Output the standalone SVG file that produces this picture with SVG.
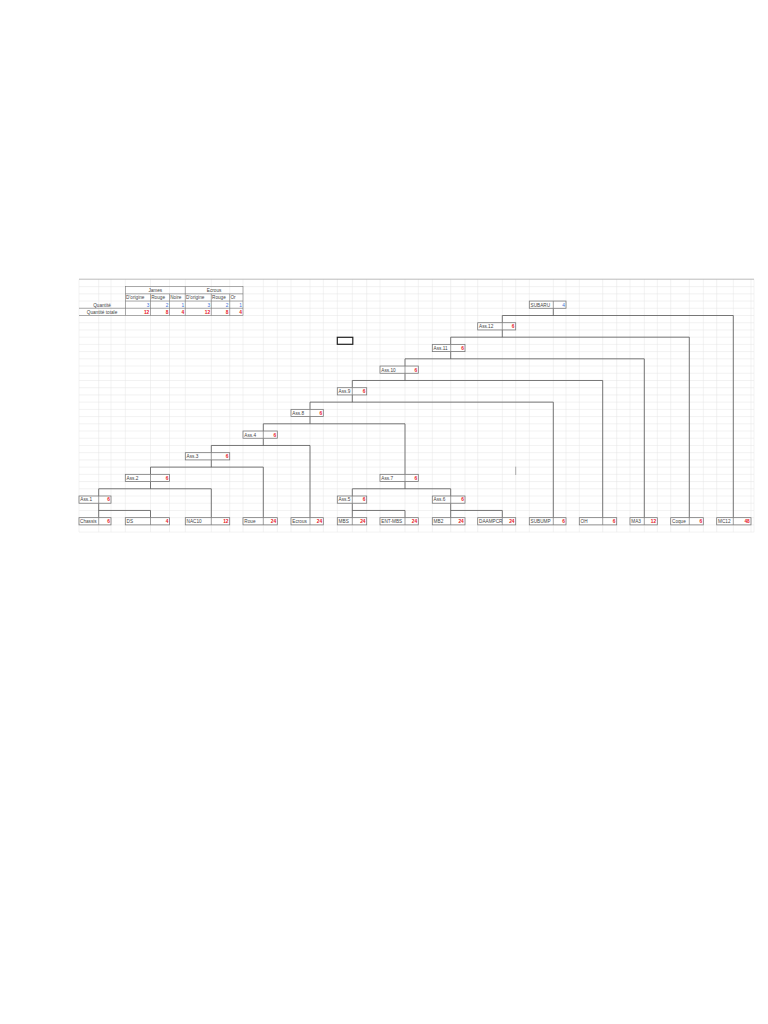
<svg xmlns="http://www.w3.org/2000/svg" width="768" height="1024" viewBox="0 0 768 1024">
<style>
.grid line{stroke:#e4e4e4;stroke-width:0.5}
.box{fill:#fff;stroke:#777;stroke-width:0.8}
.div{stroke:#777;stroke-width:0.7}
.con{fill:none;stroke:#555;stroke-width:0.8}
.t{font-family:"Liberation Sans",Arial,sans-serif;font-size:4.7px;fill:#444}
.v{font-family:"Liberation Sans",Arial,sans-serif;font-size:4.8px;fill:#e8161b;font-weight:bold;text-anchor:end}
.b{font-family:"Liberation Sans",Arial,sans-serif;font-size:4.8px;fill:#3a6fd8;text-anchor:end}
.tb{fill:none;stroke:#777;stroke-width:0.6}
</style>
<rect width="768" height="1024" fill="#fff"/>
<g id="grid" class="grid">
<line x1="79" y1="286.62" x2="754" y2="286.62"/><line x1="79" y1="293.84" x2="754" y2="293.84"/><line x1="79" y1="301.06" x2="754" y2="301.06"/><line x1="79" y1="308.28" x2="754" y2="308.28"/><line x1="79" y1="315.5" x2="754" y2="315.5"/><line x1="79" y1="322.72" x2="754" y2="322.72"/><line x1="79" y1="329.94" x2="754" y2="329.94"/><line x1="79" y1="337.16" x2="754" y2="337.16"/><line x1="79" y1="344.38" x2="754" y2="344.38"/><line x1="79" y1="351.6" x2="754" y2="351.6"/><line x1="79" y1="358.82" x2="754" y2="358.82"/><line x1="79" y1="366.04" x2="754" y2="366.04"/><line x1="79" y1="373.26" x2="754" y2="373.26"/><line x1="79" y1="380.48" x2="754" y2="380.48"/><line x1="79" y1="387.7" x2="754" y2="387.7"/><line x1="79" y1="394.92" x2="754" y2="394.92"/><line x1="79" y1="402.14" x2="754" y2="402.14"/><line x1="79" y1="409.36" x2="754" y2="409.36"/><line x1="79" y1="416.58" x2="754" y2="416.58"/><line x1="79" y1="423.8" x2="754" y2="423.8"/><line x1="79" y1="431.02" x2="754" y2="431.02"/><line x1="79" y1="438.24" x2="754" y2="438.24"/><line x1="79" y1="445.46" x2="754" y2="445.46"/><line x1="79" y1="452.68" x2="754" y2="452.68"/><line x1="79" y1="459.9" x2="754" y2="459.9"/><line x1="79" y1="467.12" x2="754" y2="467.12"/><line x1="79" y1="474.34" x2="754" y2="474.34"/><line x1="79" y1="481.56" x2="754" y2="481.56"/><line x1="79" y1="488.78" x2="754" y2="488.78"/><line x1="79" y1="496" x2="754" y2="496"/><line x1="79" y1="503.22" x2="754" y2="503.22"/><line x1="79" y1="510.44" x2="754" y2="510.44"/><line x1="79" y1="517.66" x2="754" y2="517.66"/><line x1="79" y1="524.88" x2="754" y2="524.88"/><line x1="79" y1="532.1" x2="754" y2="532.1"/>
<line x1="79" y1="279.4" x2="79" y2="532.1"/><line x1="98.7" y1="279.4" x2="98.7" y2="532.1"/><line x1="111" y1="279.4" x2="111" y2="532.1"/><line x1="125.3" y1="279.4" x2="125.3" y2="532.1"/><line x1="150.5" y1="279.4" x2="150.5" y2="532.1"/><line x1="169.5" y1="279.4" x2="169.5" y2="532.1"/><line x1="185.3" y1="279.4" x2="185.3" y2="532.1"/><line x1="211.3" y1="279.4" x2="211.3" y2="532.1"/><line x1="229.7" y1="279.4" x2="229.7" y2="532.1"/><line x1="243" y1="279.4" x2="243" y2="532.1"/><line x1="263.3" y1="279.4" x2="263.3" y2="532.1"/><line x1="277.3" y1="279.4" x2="277.3" y2="532.1"/><line x1="291" y1="279.4" x2="291" y2="532.1"/><line x1="310" y1="279.4" x2="310" y2="532.1"/><line x1="323.3" y1="279.4" x2="323.3" y2="532.1"/><line x1="337.3" y1="279.4" x2="337.3" y2="532.1"/><line x1="352.3" y1="279.4" x2="352.3" y2="532.1"/><line x1="366.7" y1="279.4" x2="366.7" y2="532.1"/><line x1="380" y1="279.4" x2="380" y2="532.1"/><line x1="405" y1="279.4" x2="405" y2="532.1"/><line x1="418.3" y1="279.4" x2="418.3" y2="532.1"/><line x1="432.3" y1="279.4" x2="432.3" y2="532.1"/><line x1="450.7" y1="279.4" x2="450.7" y2="532.1"/><line x1="465" y1="279.4" x2="465" y2="532.1"/><line x1="477.7" y1="279.4" x2="477.7" y2="532.1"/><line x1="502.3" y1="279.4" x2="502.3" y2="532.1"/><line x1="515.7" y1="279.4" x2="515.7" y2="532.1"/><line x1="529.3" y1="279.4" x2="529.3" y2="532.1"/><line x1="553.3" y1="279.4" x2="553.3" y2="532.1"/><line x1="566" y1="279.4" x2="566" y2="532.1"/><line x1="579.3" y1="279.4" x2="579.3" y2="532.1"/><line x1="602.7" y1="279.4" x2="602.7" y2="532.1"/><line x1="616.7" y1="279.4" x2="616.7" y2="532.1"/><line x1="630" y1="279.4" x2="630" y2="532.1"/><line x1="644.3" y1="279.4" x2="644.3" y2="532.1"/><line x1="657.3" y1="279.4" x2="657.3" y2="532.1"/><line x1="670.7" y1="279.4" x2="670.7" y2="532.1"/><line x1="689.3" y1="279.4" x2="689.3" y2="532.1"/><line x1="703.3" y1="279.4" x2="703.3" y2="532.1"/><line x1="716.7" y1="279.4" x2="716.7" y2="532.1"/><line x1="733.3" y1="279.4" x2="733.3" y2="532.1"/><line x1="751" y1="279.4" x2="751" y2="532.1"/><line x1="754" y1="279.4" x2="754" y2="532.1"/>
</g>
<line x1="79" y1="279.2" x2="754" y2="279.2" stroke="#aaa" stroke-width="0.8"/>
<g id="table">
<rect class="tb" x="125.3" y="286.62" width="117.7" height="28.88"/>
<line class="tb" x1="125.3" y1="293.84" x2="243" y2="293.84"/>
<line class="tb" x1="125.3" y1="301.06" x2="243" y2="301.06"/>
<line class="tb" x1="79" y1="308.28" x2="243" y2="308.28"/>
<line class="tb" x1="79" y1="315.5" x2="125.3" y2="315.5"/>
<line class="tb" x1="185.3" y1="286.62" x2="185.3" y2="315.5"/>
<line class="tb" x1="150.5" y1="293.84" x2="150.5" y2="315.5"/>
<line class="tb" x1="169.5" y1="293.84" x2="169.5" y2="315.5"/>
<line class="tb" x1="211.3" y1="293.84" x2="211.3" y2="315.5"/>
<line class="tb" x1="229.7" y1="293.84" x2="229.7" y2="315.5"/>
<text class="t" x="155.3" y="292.1" text-anchor="middle">James</text>
<text class="t" x="214.1" y="292.1" text-anchor="middle">Ecrous</text>
<text class="t" x="126.1" y="299.3">D'origine</text>
<text class="t" x="151.2" y="299.3">Rouge</text>
<text class="t" x="170.2" y="299.3">Noire</text>
<text class="t" x="186" y="299.3">D'origine</text>
<text class="t" x="212" y="299.3">Rouge</text>
<text class="t" x="230.4" y="299.3">Or</text>
<text class="t" x="102" y="306.5" text-anchor="middle">Quantité</text>
<text class="t" x="102" y="313.7" text-anchor="middle">Quantité totale</text>
<text class="b" x="149.3" y="306.5">3</text>
<text class="b" x="168.3" y="306.5">2</text>
<text class="b" x="184.1" y="306.5">1</text>
<text class="b" x="210.1" y="306.5">3</text>
<text class="b" x="228.5" y="306.5">2</text>
<text class="b" x="241.8" y="306.5">1</text>
<text class="v" x="149.3" y="313.7">12</text>
<text class="v" x="168.3" y="313.7">8</text>
<text class="v" x="184.1" y="313.7">4</text>
<text class="v" x="210.1" y="313.7">12</text>
<text class="v" x="228.5" y="313.7">8</text>
<text class="v" x="241.8" y="313.7">4</text>
</g>
<rect x="337.3" y="337.3" width="15.5" height="7" fill="none" stroke="#222" stroke-width="1.2"/>
<line x1="515.7" y1="466.7" x2="515.7" y2="475" stroke="#999" stroke-width="0.8"/>
<g id="connectors" class="con">
<path d="M502.3 315.5H733.3V517.66M553.3 308.28V315.5M502.3 315.5V322.72"/>
<path d="M450.7 337.16H689.3V517.66M502.3 329.94V337.16M450.7 337.16V344.38"/>
<path d="M405 358.82H644.3V517.66M450.7 351.6V358.82M405 358.82V366.04"/>
<path d="M352.3 380.48H602.7V517.66M405 373.26V380.48M352.3 380.48V387.7"/>
<path d="M310 402.14H553.3V517.66M352.3 394.92V402.14M310 402.14V409.36"/>
<path d="M263.3 423.8H405V474.34M310 416.58V423.8M263.3 423.8V431.02"/>
<path d="M211.3 445.46H310V517.66M263.3 438.24V445.46M211.3 445.46V452.68"/>
<path d="M150.5 467.12H263.3V517.66M211.3 459.9V467.12M150.5 467.12V474.34"/>
<path d="M98.7 488.78H211.3V517.66M150.5 481.56V488.78M98.7 488.78V496"/>
<path d="M98.7 510.44H150.5V517.66M98.7 503.22V517.66"/>
<path d="M352.3 488.78H450.7V496M405 481.56V488.78M352.3 488.78V496"/>
<path d="M352.3 510.44H405V517.66M352.3 503.22V517.66"/>
<path d="M450.7 510.44H502.3V517.66M450.7 503.22V517.66"/>
</g>
<g id="SUBARU"><rect class="box" x="529.3" y="301.06" width="36.7" height="7.22"/><line class="div" x1="553.3" y1="301.06" x2="553.3" y2="308.28"/><text class="t" x="530.6" y="306.5">SUBARU</text><text class="b" x="564.8" y="306.5">4</text></g>
<g id="ass12"><rect class="box" x="477.7" y="322.72" width="38" height="7.22"/><line class="div" x1="502.3" y1="322.72" x2="502.3" y2="329.94"/><text class="t" x="479" y="328.2">Ass.12</text><text class="v" x="514.5" y="328.2">6</text></g>
<g id="ass11"><rect class="box" x="432.3" y="344.38" width="32.7" height="7.22"/><line class="div" x1="450.7" y1="344.38" x2="450.7" y2="351.6"/><text class="t" x="433.6" y="349.8">Ass.11</text><text class="v" x="463.8" y="349.8">6</text></g>
<g id="ass10"><rect class="box" x="380" y="366.04" width="38.3" height="7.22"/><line class="div" x1="405" y1="366.04" x2="405" y2="373.26"/><text class="t" x="381.3" y="371.5">Ass.10</text><text class="v" x="417.1" y="371.5">6</text></g>
<g id="ass9"><rect class="box" x="337.3" y="387.7" width="29.4" height="7.22"/><line class="div" x1="352.3" y1="387.7" x2="352.3" y2="394.92"/><text class="t" x="338.6" y="393.1">Ass.9</text><text class="v" x="365.5" y="393.1">6</text></g>
<g id="ass8"><rect class="box" x="291" y="409.36" width="32.3" height="7.22"/><line class="div" x1="310" y1="409.36" x2="310" y2="416.58"/><text class="t" x="292.3" y="414.8">Ass.8</text><text class="v" x="322.1" y="414.8">6</text></g>
<g id="ass4"><rect class="box" x="243" y="431.02" width="34.3" height="7.22"/><line class="div" x1="263.3" y1="431.02" x2="263.3" y2="438.24"/><text class="t" x="244.3" y="436.5">Ass.4</text><text class="v" x="276.1" y="436.5">6</text></g>
<g id="ass3"><rect class="box" x="185.3" y="452.68" width="44.4" height="7.22"/><line class="div" x1="211.3" y1="452.68" x2="211.3" y2="459.9"/><text class="t" x="186.6" y="458.1">Ass.3</text><text class="v" x="228.5" y="458.1">6</text></g>
<g id="ass2"><rect class="box" x="125.3" y="474.34" width="44.2" height="7.22"/><line class="div" x1="150.5" y1="474.34" x2="150.5" y2="481.56"/><text class="t" x="126.6" y="479.8">Ass.2</text><text class="v" x="168.3" y="479.8">6</text></g>
<g id="ass7"><rect class="box" x="380" y="474.34" width="38.3" height="7.22"/><line class="div" x1="405" y1="474.34" x2="405" y2="481.56"/><text class="t" x="381.3" y="479.8">Ass.7</text><text class="v" x="417.1" y="479.8">6</text></g>
<g id="ass1"><rect class="box" x="79" y="496" width="32" height="7.22"/><line class="div" x1="98.7" y1="496" x2="98.7" y2="503.22"/><text class="t" x="80.3" y="501.4">Ass.1</text><text class="v" x="109.8" y="501.4">6</text></g>
<g id="ass5"><rect class="box" x="337.3" y="496" width="29.4" height="7.22"/><line class="div" x1="352.3" y1="496" x2="352.3" y2="503.22"/><text class="t" x="338.6" y="501.4">Ass.5</text><text class="v" x="365.5" y="501.4">6</text></g>
<g id="ass6"><rect class="box" x="432.3" y="496" width="32.7" height="7.22"/><line class="div" x1="450.7" y1="496" x2="450.7" y2="503.22"/><text class="t" x="433.6" y="501.4">Ass.6</text><text class="v" x="463.8" y="501.4">6</text></g>
<g id="chassis"><rect class="box" x="79" y="517.66" width="32" height="7.22"/><line class="div" x1="98.7" y1="517.66" x2="98.7" y2="524.88"/><text class="t" x="80" y="523.1">Chassis</text><text class="v" x="109.8" y="523.1">6</text></g>
<g id="ds"><rect class="box" x="125.3" y="517.66" width="44.2" height="7.22"/><line class="div" x1="150.5" y1="517.66" x2="150.5" y2="524.88"/><text class="t" x="126.6" y="523.1">DS</text><text class="v" x="168.3" y="523.1">4</text></g>
<g id="nac10"><rect class="box" x="185.3" y="517.66" width="44.4" height="7.22"/><line class="div" x1="211.3" y1="517.66" x2="211.3" y2="524.88"/><text class="t" x="186.6" y="523.1">NAC10</text><text class="v" x="228.5" y="523.1">12</text></g>
<g id="roue"><rect class="box" x="243" y="517.66" width="34.3" height="7.22"/><line class="div" x1="263.3" y1="517.66" x2="263.3" y2="524.88"/><text class="t" x="244.3" y="523.1">Roue</text><text class="v" x="276.1" y="523.1">24</text></g>
<g id="ecrous"><rect class="box" x="291" y="517.66" width="32.3" height="7.22"/><line class="div" x1="310" y1="517.66" x2="310" y2="524.88"/><text class="t" x="292.3" y="523.1">Ecrous</text><text class="v" x="322.1" y="523.1">24</text></g>
<g id="mbs"><rect class="box" x="337.3" y="517.66" width="29.4" height="7.22"/><line class="div" x1="352.3" y1="517.66" x2="352.3" y2="524.88"/><text class="t" x="338.6" y="523.1">MBS</text><text class="v" x="365.5" y="523.1">24</text></g>
<g id="entmbs"><rect class="box" x="380" y="517.66" width="38.3" height="7.22"/><line class="div" x1="405" y1="517.66" x2="405" y2="524.88"/><text class="t" x="381.3" y="523.1">ENT-MBS</text><text class="v" x="417.1" y="523.1">24</text></g>
<g id="mb2"><rect class="box" x="432.3" y="517.66" width="32.7" height="7.22"/><line class="div" x1="450.7" y1="517.66" x2="450.7" y2="524.88"/><text class="t" x="433.6" y="523.1">MB2</text><text class="v" x="463.8" y="523.1">24</text></g>
<g id="daampcr"><rect class="box" x="477.7" y="517.66" width="38" height="7.22"/><line class="div" x1="502.3" y1="517.66" x2="502.3" y2="524.88"/><text class="t" x="479" y="523.1">DAAMPCR</text><text class="v" x="514.5" y="523.1">24</text></g>
<g id="subump"><rect class="box" x="529.3" y="517.66" width="36.7" height="7.22"/><line class="div" x1="553.3" y1="517.66" x2="553.3" y2="524.88"/><text class="t" x="530.6" y="523.1">SUBUMP</text><text class="v" x="564.8" y="523.1">6</text></g>
<g id="oh"><rect class="box" x="579.3" y="517.66" width="37.4" height="7.22"/><line class="div" x1="602.7" y1="517.66" x2="602.7" y2="524.88"/><text class="t" x="580.6" y="523.1">OH</text><text class="v" x="615.5" y="523.1">6</text></g>
<g id="ma3"><rect class="box" x="630" y="517.66" width="27.3" height="7.22"/><line class="div" x1="644.3" y1="517.66" x2="644.3" y2="524.88"/><text class="t" x="631.3" y="523.1">MA3</text><text class="v" x="656.1" y="523.1">12</text></g>
<g id="coque"><rect class="box" x="670.7" y="517.66" width="32.6" height="7.22"/><line class="div" x1="689.3" y1="517.66" x2="689.3" y2="524.88"/><text class="t" x="672" y="523.1">Coque</text><text class="v" x="702.1" y="523.1">6</text></g>
<g id="mc12"><rect class="box" x="716.7" y="517.66" width="34.3" height="7.22"/><line class="div" x1="733.3" y1="517.66" x2="733.3" y2="524.88"/><text class="t" x="718" y="523.1">MC12</text><text class="v" x="749.8" y="523.1">48</text></g>
</svg>
